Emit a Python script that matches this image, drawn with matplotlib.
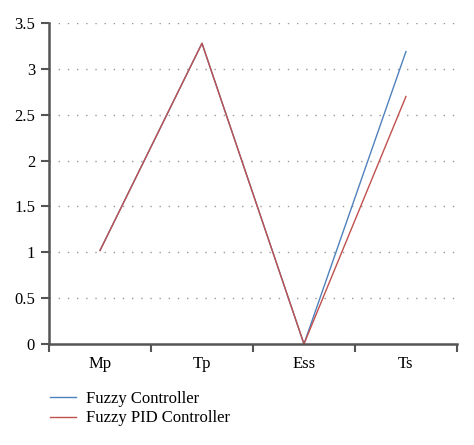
import matplotlib
matplotlib.use("Agg")
import matplotlib.pyplot as plt
import numpy as np

categories = ["Mp", "Tp", "Ess", "Ts"]
fuzzy = [1.02, 3.28, 0.0, 3.19]
fuzzy_pid = [1.02, 3.28, 0.0, 2.70]
y_ticks = [0, 0.5, 1, 1.5, 2, 2.5, 3, 3.5]
y_labels = ["0", "0.5", "1", "1.5", "2", "2.5", "3", "3.5"]

plt.rcParams["font.family"] = ["Liberation Serif", "DejaVu Serif"]
plt.rcParams["font.size"] = 12

fig = plt.figure(figsize=(4.74, 4.45), dpi=100)
ax = fig.add_axes([0.1034, 0.227, 0.8606, 0.721])

x = np.arange(len(categories)) + 0.5
ax.plot(x, fuzzy, color="#4f81bd", lw=1.0, label="Fuzzy Controller")
ax.plot(x, fuzzy_pid, color="#c0504d", lw=1.0, label="Fuzzy PID Controller")

ax.set_xlim(0, len(categories))
ax.set_ylim(0, 3.5)
ax.set_yticks(y_ticks)
ax.set_yticklabels(y_labels)
ax.set_xticks(np.arange(len(categories) + 1))
ax.set_xticklabels([])
ax.set_xticks(x, minor=True)
ax.set_xticklabels(categories, minor=True)
ax.tick_params(axis="x", which="minor", length=0, pad=9)
ax.tick_params(axis="x", which="major", length=6, width=1.5, color="#555555")
ax.tick_params(axis="y", length=6, width=1.5, color="#555555", pad=4)

for s in ["top", "right"]:
    ax.spines[s].set_visible(False)
for s in ["left", "bottom"]:
    ax.spines[s].set_color("#555555")
    ax.spines[s].set_linewidth(1.8)

ax.yaxis.grid(True, color="#999999", linestyle=(0, (1, 5.6)), linewidth=1.0)
ax.set_axisbelow(True)

fig.legend(loc="lower left", bbox_to_anchor=(0.074, 0.008), frameon=False,
           handlelength=1.56, handletextpad=0.6, labelspacing=0.2)

fig.savefig("out.png", dpi=100)
